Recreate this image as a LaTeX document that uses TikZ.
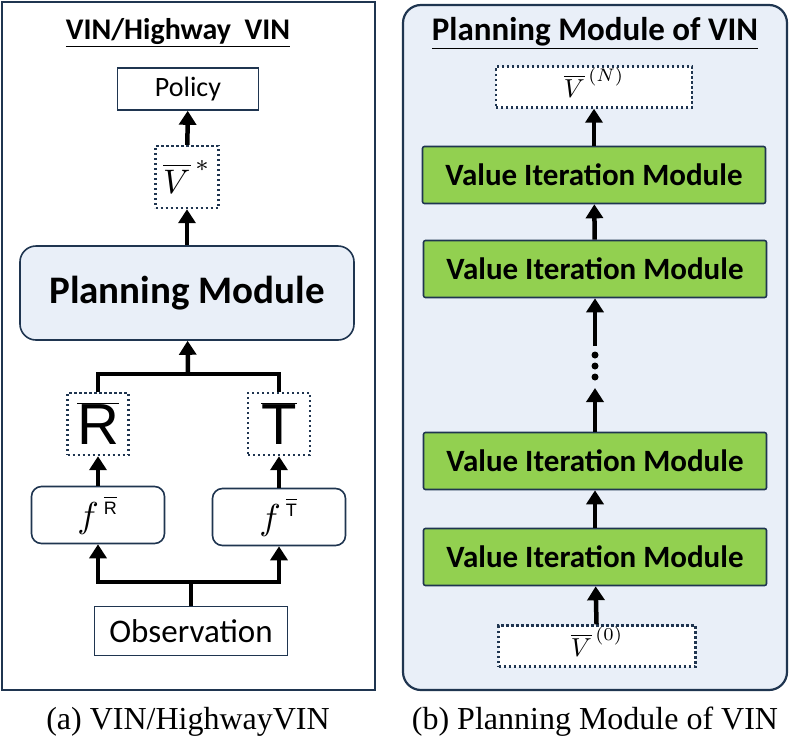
\documentclass[tikz,border=0pt]{standalone}
\usepackage{fix-cm}
\usepackage{graphicx}
\usepackage{fontspec}
\setmainfont{Carlito}
\newfontfamily\capfont{Liberation Serif}
\newfontfamily\letterfont{Liberation Sans}
\usetikzlibrary{positioning, arrows.meta}

\definecolor{frameblue}{HTML}{1F3550}
\definecolor{panelblue}{HTML}{E9EFF8}
\definecolor{vimgreen}{HTML}{92D050}

\newcommand{\fsup}[1]{\scalebox{3.6}{$f^{\,\overline{\hbox{\letterfont\fontsize{5}{6}\selectfont #1}}}$}}

\tikzset{
  box/.style={draw=frameblue, line width=1.6pt, fill=white, inner sep=0pt},
  dotbox/.style={draw=frameblue, line width=2.4pt, dash pattern=on 2.4pt off 2.6pt, fill=white, inner sep=0pt},
  vim/.style={draw=frameblue, line width=1.6pt, fill=vimgreen, rounded corners=2pt, minimum width=343pt, minimum height=57pt,
    font=\fontsize{31}{34}\selectfont\bfseries},
  up/.style={line width=4.5pt, -{Triangle[length=14pt,width=17pt]}},
  link/.style={line width=4.5pt},
  caption/.style={font=\fontsize{32}{36}\selectfont\capfont}
}

\begin{document}
\begin{tikzpicture}[x=1pt, y=-1pt]
  \useasboundingbox (0,0) rectangle (794,744);

  % left panel
  \draw[frameblue, line width=2.2pt] (2,2) rectangle (375,690);
  \node[font=\fontsize{30}{34}\selectfont\bfseries] (lefttitle) at (178,33) {\underline{VIN/Highway\ \ VIN}};
  \node[box, minimum width=141pt, minimum height=42pt, font=\fontsize{28}{30}\selectfont] (policy) at (188,89) {Policy};
  \node[dotbox, minimum width=63pt, minimum height=62pt] (vstar) at (187,177) {\scalebox{3.4}{$\overline{V}^{\,*}$}};
  \node[box, fill=panelblue, rounded corners=16pt, minimum width=334pt, minimum height=94pt,
    font=\fontsize{39}{44}\selectfont\bfseries] (plan) at (187,293) {Planning Module};
  \node[dotbox, minimum width=61pt, minimum height=62pt, font=\fontsize{58}{60}\selectfont\letterfont] (rbar) at (98,424) {$\overline{\hbox{R}}$};
  \node[dotbox, minimum width=62pt, minimum height=62pt, font=\fontsize{58}{60}\selectfont\letterfont] (tbar) at (279,424) {$\overline{\hbox{T}}$};
  \node[box, rounded corners=10pt, minimum width=133pt, minimum height=57pt] (fr) at (98,515) {\fsup{R}};
  \node[box, rounded corners=10pt, minimum width=133pt, minimum height=57pt] (ft) at (279,517) {\fsup{T}};
  \node[box, minimum width=193pt, minimum height=49pt, font=\fontsize{33}{36}\selectfont] (obs) at (191,631) {Observation};
  \coordinate (split) at (191,582);
  \coordinate (merge) at (188,374);

  \draw[up] (vstar) -- (policy);
  \draw[up] (plan) -- (vstar);
  \draw[up] (merge) -- (plan);
  \draw[link] (rbar.north) |- (merge) -| (tbar.north);
  \draw[up] (fr) -- (rbar);
  \draw[up] (ft) -- (tbar);
  \draw[link] (obs) -- (split);
  \draw[up] (split) -| (fr);
  \draw[up] (split) -| (ft);
  \node[caption] (capa) at (188,722) {(a) VIN/HighwayVIN};

  % right panel
  \draw[frameblue, line width=2.2pt, fill=panelblue, rounded corners=18pt] (403,5) rectangle (787,690);
  \node[font=\fontsize{33}{36}\selectfont\bfseries] (righttitle) at (595,33) {\underline{Planning Module of VIN}};
  \node[dotbox, minimum width=196pt, minimum height=41pt] (vn) at (594,87) {};
  \node[anchor=north, inner sep=2pt] at (vn.north) {\scalebox{2.6}{$\overline{V}^{\,(N)}$}};
  \node[vim] (vim1) at (594,175) {Value Iteration Module};
  \node[vim] (vim2) at (595,269) {Value Iteration Module};
  \node[vim] (vim3) at (595,461) {Value Iteration Module};
  \node[vim] (vim4) at (595,557) {Value Iteration Module};
  \node[dotbox, minimum width=197pt, minimum height=41pt] (v0) at (597,646) {};
  \node[anchor=north, inner sep=2pt] at (v0.north) {\scalebox{2.6}{$\overline{V}^{\,(0)}$}};
  \coordinate (dotstop) at (595,346);
  \coordinate (dotsbot) at (595,388);
  \foreach \y in {355,366,377}
    \fill (595,\y) circle (3.5pt);

  \draw[up] (v0) -- (vim4);
  \draw[up] (vim4) -- (vim3);
  \draw[up] (vim3.north) -- (dotsbot);
  \draw[up] (dotstop) -- (vim2);
  \draw[up] (vim2) -- (vim1);
  \draw[up] (vim1) -- (vn);
  \node[caption] (capb) at (595,722) {(b) Planning Module of VIN};
\end{tikzpicture}
\end{document}
